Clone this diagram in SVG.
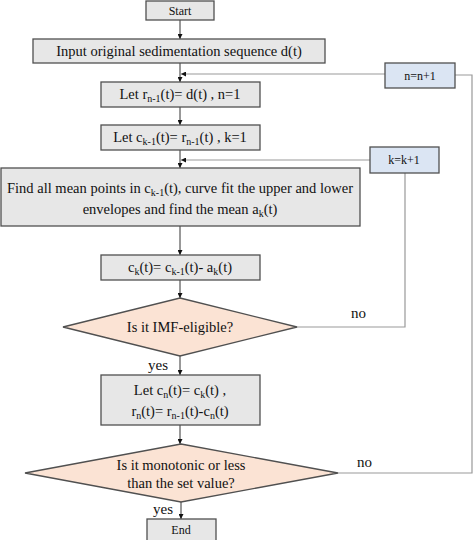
<svg xmlns="http://www.w3.org/2000/svg" width="474" height="540" viewBox="0 0 474 540">
<defs>
<marker id="ah" viewBox="0 0 10 10" refX="10" refY="5" markerWidth="5" markerHeight="5" orient="auto" markerUnits="userSpaceOnUse">
<path d="M0,0 L10,5 L0,10 z" fill="#111"/>
</marker>
</defs>
<style>
.box{fill:#e7e7e7;stroke:#505050;stroke-width:1.3}
.blue{fill:#dbe5f3;stroke:#505050;stroke-width:1.3}
.dia{fill:#fbe3d4;stroke:#505050;stroke-width:1.3}
.t{font-family:"Liberation Serif","Times New Roman",serif;font-size:14.5px;fill:#111;text-anchor:middle}
.s{font-size:12px}
.lbl{font-family:"Liberation Serif","Times New Roman",serif;font-size:15px;fill:#111}
.c{fill:none;stroke:#333;stroke-width:1}
.fb{fill:none;stroke:#999;stroke-width:1.2}
</style>
<rect width="474" height="540" fill="#fff"/>
<g id="connectors">
<line class="c" x1="180" y1="20" x2="180" y2="39" marker-end="url(#ah)"/>
<line class="c" x1="180" y1="63" x2="180" y2="82" marker-end="url(#ah)"/>
<line class="c" x1="180" y1="107" x2="180" y2="125" marker-end="url(#ah)"/>
<line class="c" x1="180" y1="150" x2="180" y2="168" marker-end="url(#ah)"/>
<line class="c" x1="180" y1="226" x2="180" y2="255" marker-end="url(#ah)"/>
<line class="c" x1="180" y1="280" x2="180" y2="298" marker-end="url(#ah)"/>
<line class="c" x1="180" y1="356" x2="180" y2="375" marker-end="url(#ah)"/>
<line class="c" x1="180" y1="425" x2="180" y2="444" marker-end="url(#ah)"/>
<line class="c" x1="181" y1="502" x2="181" y2="519" marker-end="url(#ah)"/>
<polyline class="fb" points="297,327 405,327 405,173"/>
<line class="fb" x1="370" y1="160" x2="181" y2="160" marker-end="url(#ah)"/>
<polyline class="fb" points="338,473 472,473 472,75 455,75"/>
<line class="fb" x1="385" y1="74" x2="181" y2="74" marker-end="url(#ah)"/>
<text class="lbl" x="351" y="318">no</text>
<text class="lbl" x="148" y="370">yes</text>
<text class="lbl" x="357" y="467">no</text>
<text class="lbl" x="153" y="514">yes</text>
</g>
<g id="start"><rect class="box" x="146" y="1" width="68" height="19"/><text class="t s" x="180" y="15">Start</text></g>
<g id="input"><rect class="box" x="33" y="39" width="292" height="24"/><text class="t" x="179" y="56">Input original sedimentation sequence d(t)</text></g>
<g id="n-inc"><rect class="blue" x="385" y="63" width="70" height="25"/><text class="t s" x="420" y="80">n=n+1</text></g>
<g id="let-r"><rect class="box" x="101" y="82" width="159" height="25"/><text class="t" x="180" y="99">Let r<tspan font-size="10" dy="3">n-1</tspan><tspan dy="-3">(t)= d(t) , n=1</tspan></text></g>
<g id="let-c"><rect class="box" x="101" y="125" width="159" height="25"/><text class="t" x="180" y="142">Let c<tspan font-size="10" dy="3">k-1</tspan><tspan dy="-3">(t)= r</tspan><tspan font-size="10" dy="3">n-1</tspan><tspan dy="-3">(t) , k=1</tspan></text></g>
<g id="k-inc"><rect class="blue" x="370" y="147" width="69" height="26"/><text class="t s" x="404" y="164">k=k+1</text></g>
<g id="find"><rect class="box" x="1" y="168" width="359" height="58"/>
<text class="t" x="180" y="193">Find all mean points in c<tspan font-size="10" dy="3">k-1</tspan><tspan dy="-3">(t), curve fit the upper and lower</tspan></text>
<text class="t" x="180" y="214">envelopes and find the mean a<tspan font-size="10" dy="3">k</tspan><tspan dy="-3">(t)</tspan></text></g>
<g id="ck"><rect class="box" x="101" y="255" width="159" height="25"/><text class="t" x="180" y="272">c<tspan font-size="10" dy="3">k</tspan><tspan dy="-3">(t)= c</tspan><tspan font-size="10" dy="3">k-1</tspan><tspan dy="-3">(t)- a</tspan><tspan font-size="10" dy="3">k</tspan><tspan dy="-3">(t)</tspan></text></g>
<g id="imf"><polygon class="dia" points="180,298 297,327 180,356 63,327"/><text class="t" x="180" y="332">Is it IMF-eligible?</text></g>
<g id="let-cn"><rect class="box" x="101" y="375" width="159" height="50"/>
<text class="t" x="180" y="395">Let c<tspan font-size="10" dy="3">n</tspan><tspan dy="-3">(t)= c</tspan><tspan font-size="10" dy="3">k</tspan><tspan dy="-3">(t) ,</tspan></text>
<text class="t" x="180" y="416">r<tspan font-size="10" dy="3">n</tspan><tspan dy="-3">(t)= r</tspan><tspan font-size="10" dy="3">n-1</tspan><tspan dy="-3">(t)-c</tspan><tspan font-size="10" dy="3">n</tspan><tspan dy="-3">(t)</tspan></text></g>
<g id="mono"><polygon class="dia" points="181,444 338,473 181,502 25,473"/>
<text class="t" x="181" y="470">Is it monotonic or less</text>
<text class="t" x="181" y="488">than the set value?</text></g>
<g id="end"><rect class="box" x="147" y="519" width="69" height="22"/><text class="t s" x="181" y="534">End</text></g>
</svg>
